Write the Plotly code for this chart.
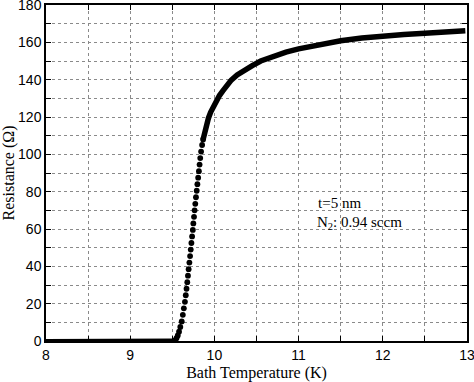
import plotly.graph_objects as go

# Baseline (superconducting state), drawn as a dense band
T_base = [8.0, 8.5, 9.0, 9.3, 9.5, 9.525]
R_base = [0, 0, 0, 0, 0, 0.3]

# Transition region: individually visible dots
T_trans = [9.535, 9.55, 9.565, 9.58, 9.595, 9.612, 9.625, 9.637, 9.65, 9.66,
           9.669, 9.678, 9.686, 9.694, 9.703, 9.711, 9.719, 9.727, 9.735, 9.744,
           9.75, 9.758, 9.765, 9.773, 9.781, 9.79, 9.798, 9.807, 9.816, 9.824,
           9.832, 9.842, 9.854, 9.866]
R_trans = [0.5, 1.5, 3, 5, 7.5, 10.5, 14, 17.5, 21, 24.5,
           28, 31.5, 35, 38.5, 42, 45.5, 49, 52.5, 56, 59.5,
           63, 66.5, 70, 73.5, 77, 80.5, 84, 87.5, 91, 94.5,
           98, 101.5, 105, 108]

# Normal state plateau: densely sampled, merges into a thick band
T_plat = [9.866, 9.88, 9.895, 9.91, 9.93, 9.955, 9.985, 10.02, 10.06, 10.1,
          10.15, 10.2, 10.27, 10.35, 10.45, 10.55, 10.7, 10.85, 11.0, 11.15,
          11.33, 11.5, 11.75, 12.0, 12.25, 12.5, 12.75, 12.98]
R_plat = [108, 111, 114, 116.5, 119.5, 122.5, 125.5, 128.5, 131.5, 134,
          137, 139.8, 142.5, 145, 147.5, 150, 152.5, 154.8, 156.5, 158,
          159.6, 160.8, 162.3, 163.5, 164.2, 164.8, 165.5, 166.2]

x_ticks = [8, 9, 10, 11, 12, 13]
y_ticks = [0, 20, 40, 60, 80, 100, 120, 140, 160, 180]

fig = go.Figure()
fig.add_trace(go.Scatter(x=T_base, y=R_base, mode="lines",
                         line=dict(color="black", width=4), showlegend=False))
fig.add_trace(go.Scatter(x=T_plat, y=R_plat, mode="lines",
                         line=dict(color="black", width=5.5), showlegend=False))
fig.add_trace(go.Scatter(x=T_trans, y=R_trans, mode="markers",
                         marker=dict(color="black", size=5.8), showlegend=False))

grid = dict(showgrid=True, gridcolor="#8a8a8a", gridwidth=1, griddash="dot")
fig.update_xaxes(range=[8, 13], tickvals=x_ticks, ticktext=[str(v) for v in x_ticks],
                 ticks="inside", ticklen=5, tickwidth=1, tickcolor="black",
                 showline=True, linecolor="black", linewidth=1.5, mirror="ticks",
                 zeroline=False, ticklabeloverflow="allow", automargin=False, **grid,
                 minor=dict(dtick=0.5, tick0=8, ticks="inside", ticklen=5, tickcolor="black",
                            showgrid=True, gridcolor="#8a8a8a", gridwidth=1, griddash="dot"),
                 tickfont=dict(family="Liberation Sans, Arial", size=14, color="black"),
                 title=dict(text="Bath Temperature (K)", standoff=7,
                            font=dict(family="Liberation Serif, Times New Roman", size=16, color="black")))
fig.update_yaxes(range=[0, 180], tickvals=y_ticks, ticktext=[str(v) for v in y_ticks],
                 ticks="inside", ticklen=5, tickwidth=1, tickcolor="black",
                 showline=True, linecolor="black", linewidth=1.5, mirror="ticks",
                 zeroline=False, ticklabeloverflow="allow", automargin=False, **grid,
                 minor=dict(dtick=10, tick0=0, ticks="inside", ticklen=5, tickcolor="black",
                            showgrid=True, gridcolor="#8a8a8a", gridwidth=1, griddash="dot"),
                 tickfont=dict(family="Liberation Sans, Arial", size=14, color="black"),
                 title=dict(text="Resistance (Ω)", standoff=4,
                            font=dict(family="Liberation Serif, Times New Roman", size=16, color="black")))

fig.add_annotation(x=11.21, y=73.8, xref="x", yref="y", text="t=5 nm", showarrow=False,
                   xanchor="left", yanchor="middle",
                   font=dict(family="Liberation Serif, Times New Roman", size=15, color="black"))
fig.add_annotation(x=11.19, y=63.4, xref="x", yref="y", text="N<sub>2</sub>: 0.94 sccm", showarrow=False,
                   xanchor="left", yanchor="middle",
                   font=dict(family="Liberation Serif, Times New Roman", size=15, color="black"))

fig.update_layout(width=474, height=382, margin=dict(l=46, r=7, t=5, b=41),
                  paper_bgcolor="white", plot_bgcolor="white")
fig.write_html("out.html", config={"displayModeBar": False},
               post_script="document.body.style.margin='0px';document.body.style.padding='0px';")
